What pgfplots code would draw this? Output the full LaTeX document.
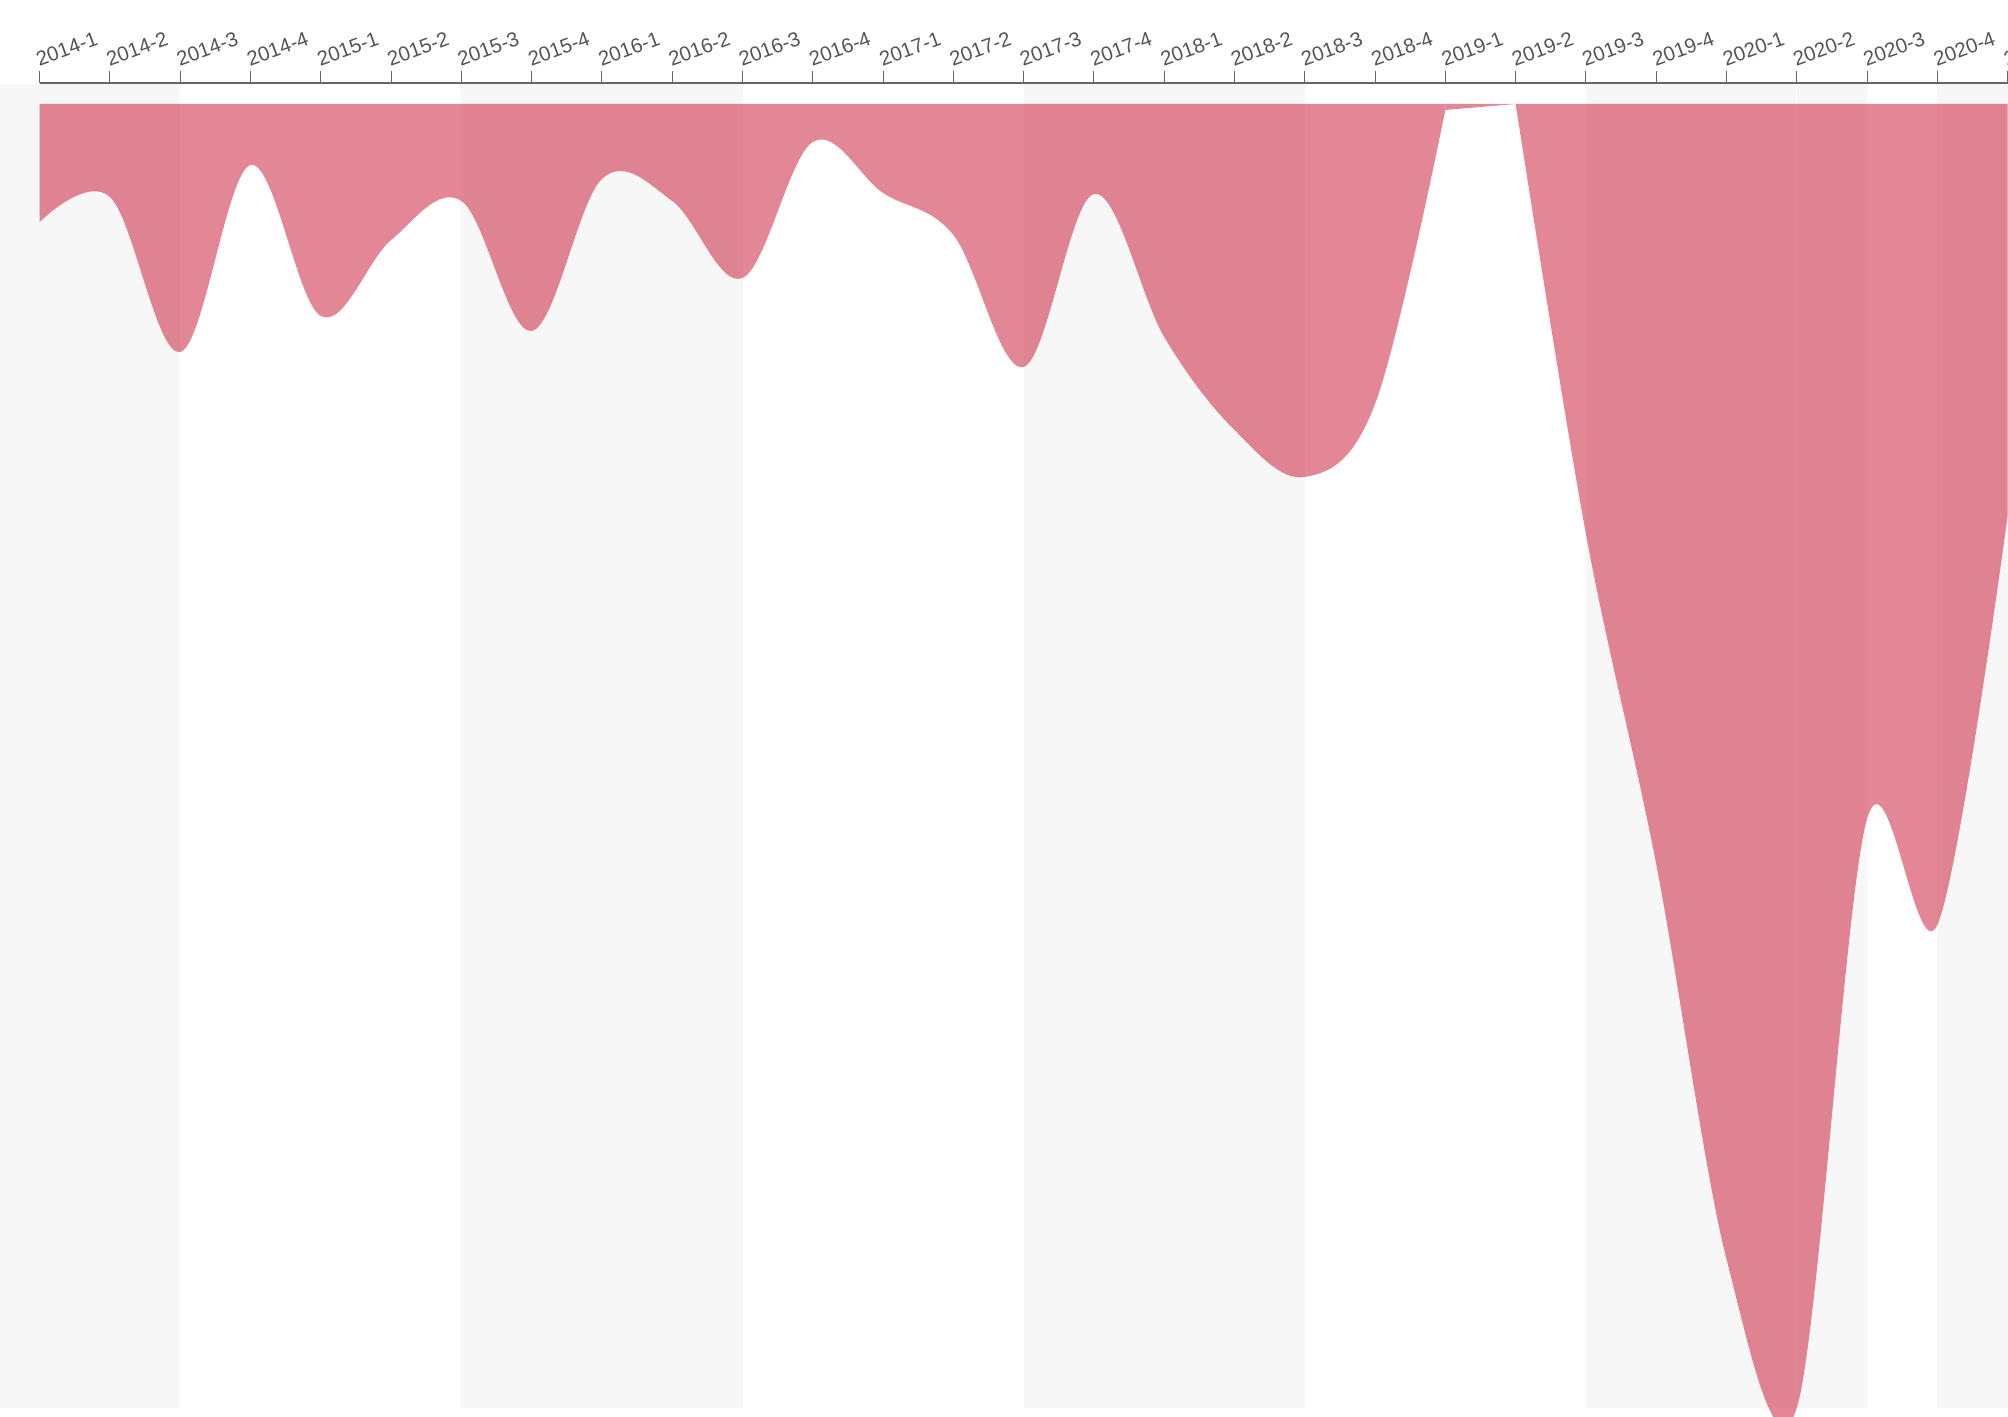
\documentclass[border=0pt]{standalone}
\usepackage{fontspec}
\setmainfont{Liberation Sans}
\usepackage{pgfplots}
\usepackage{pgfplotstable}
\pgfplotsset{compat=1.18}

\definecolor{bandgrey}{HTML}{F7F7F7}
\definecolor{axisgrey}{HTML}{666666}
\definecolor{labelgrey}{HTML}{555555}
\definecolor{areapink}{RGB}{208,55,80}

% quarterly values (negative, drawn downward from the top baseline)
\pgfplotstableread{
x   y
0   -11.8
1   -9.3
2   -24.8
3   -6.1
4   -21.2
5   -13.6
6   -9.7
7   -22.7
8   -7.5
9   -9.7
10  -17.4
11  -3.8
12  -8.9
13  -13.1
14  -26.3
15  -9.0
16  -23.3
17  -32.6
18  -37.3
19  -30.0
20  -0.6
}\partA
\pgfplotstableread{
x   y
20  -0.6
21  0
}\partB
\pgfplotstableread{
x   y
21  0
22  -43.0
23  -76.0
24  -115.5
25  -130.4
26  -71.5
27  -82.1
28  -41.2
}\partC

\begin{document}
\begin{tikzpicture}
\begin{axis}[
    x=35.14pt, y=5pt,
    scale only axis,
    xmin=0, xmax=28,
    ymin=-130.4, ymax=2.1,
    axis x line=top,
    axis y line=none,
    axis line style={-, draw=axisgrey, line width=0.6pt},
    xtick={0,...,28},
    xticklabels={2014-1,2014-2,2014-3,2014-4,2015-1,2015-2,2015-3,2015-4,
      2016-1,2016-2,2016-3,2016-4,2017-1,2017-2,2017-3,2017-4,
      2018-1,2018-2,2018-3,2018-4,2019-1,2019-2,2019-3,2019-4,
      2020-1,2020-2,2020-3,2020-4,2021-1},
    tick align=outside,
    major tick length=5.8pt,
    tick style={draw=axisgrey, line width=0.5pt},
    xticklabel style={font=\fontsize{10.2}{12}\selectfont, text=labelgrey,
      xshift=-0.4pt, yshift=2.5pt, rotate=20, anchor=base west, inner sep=0pt},
    ytick=\empty,
    clip=false,
  ]
  % alternating background bands
  \fill[bandgrey] (axis cs:-0.565,-130.4) rectangle (axis cs:2,2.0);
  \fill[bandgrey] (axis cs:6,-130.4) rectangle (axis cs:10,2.0);
  \fill[bandgrey] (axis cs:14,-130.4) rectangle (axis cs:18,2.0);
  \fill[bandgrey] (axis cs:22,-130.4) rectangle (axis cs:26,2.0);
  \fill[bandgrey] (axis cs:27,-130.4) rectangle (axis cs:28.01,2.0);
  \draw[white, line width=0.5pt] (axis cs:25,-130.4) -- (axis cs:25,2.0);

  \addplot[draw=none, fill=areapink, fill opacity=0.6, smooth, tension=0.6] table {\partA} \closedcycle;
  \addplot[draw=none, fill=areapink, fill opacity=0.6] table {\partB} \closedcycle;
  \addplot[draw=none, fill=areapink, fill opacity=0.6, smooth, tension=0.55] table {\partC} \closedcycle;

  \coordinate (bbtl) at (axis cs:-0.565,10.4);
  \coordinate (bbbr) at (axis cs:28.006,-131.2);
\end{axis}
\pgfresetboundingbox
\useasboundingbox (bbtl) rectangle (bbbr);
\end{tikzpicture}
\end{document}
